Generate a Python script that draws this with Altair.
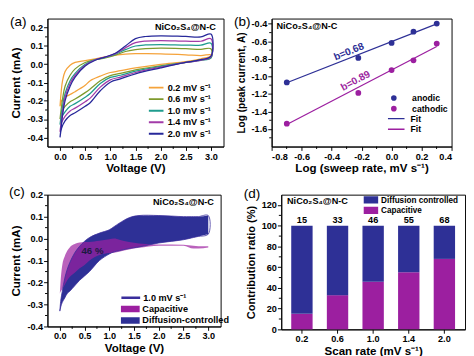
import altair as alt
import pandas as pd

FONT = "Liberation Sans"
NAVY = "#2E3096"
MAG = "#9C1FA0"
FMT1 = "replace(format(datum.value, '.1f'), '\u2212', '-')"
CHEM = "NiCo\u2082S\u2084@N-C"
PERS = " mV s\u207b\u00b9"

# ---------------- (a) CV curves ----------------
rates_a = ["0.2" + PERS, "0.6" + PERS, "1.0" + PERS, "1.4" + PERS, "2.0" + PERS]
colors_a = ["#F5A33B", "#7F9A2C", "#1F9C8E", "#A23BA8", "#27289A"]
volt_up = [0, 0.05, 0.1, 0.2, 0.3, 0.5, 0.7, 0.9, 1.1, 1.3, 1.5, 1.7, 2.0, 2.5, 2.8, 3.0]
volt_down = [3.0, 2.8, 2.5, 2.0, 1.5, 1.2, 1.0, 0.8, 0.6, 0.5, 0.3, 0.2, 0.1, 0.03, 0]
cur_up = [
    [-0.23, -0.09, -0.04, -0.005, 0.01, 0.02, 0.03, 0.04, 0.05, 0.056, 0.058, 0.058, 0.057, 0.052, 0.048, 0.052],
    [-0.30, -0.19, -0.12, -0.06, -0.025, 0.01, 0.025, 0.035, 0.05, 0.07, 0.08, 0.085, 0.088, 0.085, 0.082, 0.085],
    [-0.33, -0.23, -0.16, -0.09, -0.05, 0.0, 0.025, 0.038, 0.055, 0.08, 0.10, 0.106, 0.108, 0.105, 0.105, 0.115],
    [-0.37, -0.26, -0.18, -0.105, -0.06, -0.005, 0.025, 0.04, 0.058, 0.09, 0.118, 0.127, 0.13, 0.126, 0.126, 0.14],
    [-0.40, -0.28, -0.20, -0.12, -0.07, -0.01, 0.022, 0.04, 0.06, 0.10, 0.14, 0.152, 0.156, 0.152, 0.15, 0.165],
]
cur_down = [
    [0.045, 0.03, 0.015, 0.0, -0.02, -0.035, -0.045, -0.065, -0.09, -0.115, -0.15, -0.165, -0.18, -0.20, -0.23],
    [0.035, 0.025, 0.01, -0.008, -0.03, -0.05, -0.062, -0.09, -0.135, -0.155, -0.19, -0.205, -0.23, -0.26, -0.30],
    [0.035, 0.022, 0.01, -0.012, -0.038, -0.06, -0.072, -0.105, -0.16, -0.18, -0.215, -0.23, -0.26, -0.29, -0.33],
    [0.04, 0.022, 0.01, -0.016, -0.045, -0.07, -0.085, -0.125, -0.185, -0.205, -0.24, -0.255, -0.285, -0.32, -0.37],
    [0.045, 0.025, 0.01, -0.02, -0.052, -0.08, -0.098, -0.145, -0.21, -0.23, -0.265, -0.28, -0.31, -0.35, -0.40],
]

# ---------------- (b) log-log ----------------
log_rate = [-0.699, -0.222, 0.0, 0.146, 0.301]
log_anodic = [-1.068, -0.789, -0.618, -0.489, -0.397]
log_cathodic = [-1.539, -1.188, -0.928, -0.816, -0.625]
fit_x = [-0.699, 0.301]
fit_anodic = [-1.072, -0.40]
fit_cathodic = [-1.549, -0.659]

# ---------------- (c) capacitive separation ----------------
volt_c = [0, 0.02, 0.05, 0.1, 0.15, 0.2, 0.3, 0.4, 0.5, 0.6, 0.8, 1.0, 1.1, 1.2, 1.4, 1.6, 2.0, 2.5, 2.7, 2.8, 3.0]
total_up = [-0.33, -0.28, -0.24, -0.18, -0.14, -0.11, -0.065, -0.035, -0.012, 0.005, 0.025, 0.04, 0.055, 0.07, 0.095, 0.105, 0.105, 0.10, 0.10, 0.10, 0.105]
total_dn = [-0.33, -0.31, -0.29, -0.27, -0.25, -0.24, -0.215, -0.19, -0.17, -0.15, -0.10, -0.07, -0.06, -0.055, -0.045, -0.038, -0.02, -0.005, 0.005, 0.01, 0.02]
cap_up = [-0.25, -0.18, -0.12, -0.08, -0.055, -0.04, -0.025, -0.018, -0.015, -0.015, -0.01, -0.003, 0.0, -0.005, -0.015, -0.022, -0.027, -0.028, -0.033, -0.035, -0.035]
cap_dn = [-0.25, -0.24, -0.23, -0.21, -0.19, -0.175, -0.155, -0.135, -0.12, -0.10, -0.075, -0.066, -0.064, -0.06, -0.05, -0.042, -0.032, -0.032, -0.045, -0.045, -0.04]

# ---------------- (d) contribution ----------------
rates_d = ["0.2", "0.6", "1.0", "1.4", "2.0"]
capacitive_pct = [15, 33, 46, 55, 68]
diffusion_pct = [85, 67, 54, 45, 32]

# tick positions
volt_ticks = [0, 0.5, 1, 1.5, 2, 2.5, 3]
volt_minor = [0.25, 0.75, 1.25, 1.75, 2.25, 2.75]
cur_ticks = [-0.4, -0.3, -0.2, -0.1, 0, 0.1, 0.2]
cur_minor = [-0.35, -0.25, -0.15, -0.05, 0.05, 0.15]
logx_ticks = [-0.8, -0.6, -0.4, -0.2, 0, 0.2, 0.4]
logx_minor = [-0.7, -0.5, -0.3, -0.1, 0.1, 0.3]
logy_ticks = [-1.6, -1.4, -1.2, -1.0, -0.8, -0.6, -0.4]
logy_minor = [-1.7, -1.5, -1.3, -1.1, -0.9, -0.7, -0.5]
pct_ticks = [0, 20, 40, 60, 80, 100, 120]
pct_minor = [10, 30, 50, 70, 90, 110]

AXB = dict(labelFont=FONT, labelFontWeight="bold", labelFontSize=9.5, titleFont=FONT,
           titleFontWeight="bold", titleFontSize=12, tickSize=4, domainColor="black",
           tickColor="black", labelColor="black", titleColor="black", grid=False,
           labelPadding=1)
AXX = dict(AXB, titlePadding=2.5)
AXY = dict(AXB, titlePadding=4.5)
LEG = dict(orient="none", title=None, padding=0, labelFont=FONT, labelFontWeight="bold",
           rowPadding=0, labelColor="black", symbolOpacity=1)


def panel_label(txt, dx, dy):
    return alt.Chart(pd.DataFrame({"t": [txt]})).mark_text(
        font=FONT, fontSize=14, align="left", baseline="top", color="black"
    ).encode(x=alt.value(dx), y=alt.value(dy), text="t:N")


def chem_label(dx, dy, align):
    return alt.Chart(pd.DataFrame({"t": [CHEM]})).mark_text(
        font=FONT, fontSize=9.5, fontWeight="bold", align=align, baseline="middle", color="black"
    ).encode(x=alt.value(dx), y=alt.value(dy), text="t:N")


def x_minor(vals, scale, axis, h):
    return alt.Chart(pd.DataFrame({"m": vals})).mark_rule(color="black", strokeWidth=1).encode(
        x=alt.X("m:Q", scale=scale, axis=axis), y=alt.value(h), y2=alt.value(h + 2.5))


def y_minor(vals, scale, axis):
    return alt.Chart(pd.DataFrame({"m": vals})).mark_rule(color="black", strokeWidth=1).encode(
        y=alt.Y("m:Q", scale=scale, axis=axis), x=alt.value(0), x2=alt.value(-2.5))


# ----- panel a
rows = []
for k, lab in enumerate(rates_a):
    n = 0
    for v, c in zip(volt_up, cur_up[k]):
        rows.append({"rate": lab, "v": v, "i": c, "o": n}); n += 1
    for v, c in zip(volt_down, cur_down[k]):
        rows.append({"rate": lab, "v": v, "i": c, "o": n}); n += 1
df_a = pd.DataFrame(rows)
WA, HA = 183, 133
xs_a = alt.Scale(domain=[-0.25, 3.25], nice=False, zero=False)
ys_a = alt.Scale(domain=[-0.45, 0.25], nice=False, zero=False)
xax_a = alt.Axis(values=volt_ticks, title="Voltage (V)", labelExpr=FMT1, **AXX)
yax_a = alt.Axis(values=cur_ticks, title="Current (mA)", labelExpr=FMT1, **AXY)
lines_a = alt.Chart(df_a).mark_line(strokeWidth=1.3, interpolate="catmull-rom").encode(
    x=alt.X("v:Q", scale=xs_a, axis=xax_a), y=alt.Y("i:Q", scale=ys_a, axis=yax_a), order="o:Q",
    color=alt.Color("rate:N", scale=alt.Scale(domain=rates_a, range=colors_a),
                    legend=alt.Legend(legendX=104, legendY=66, symbolType="stroke",
                                      symbolStrokeWidth=2, symbolSize=231, clipHeight=11.5,
                                      labelOffset=3, labelFontSize=9.5, **LEG)))
panel_a = alt.layer(lines_a, x_minor(volt_minor, xs_a, xax_a, HA), y_minor(cur_minor, ys_a, yax_a),
                    chem_label(WA - 8, 9, "right"), panel_label("(a)", -39, -3)
                    ).properties(width=WA, height=HA)

# ----- panel b
WB, HB = 187, 133
df_bp = pd.DataFrame({"x": log_rate * 2, "y": log_anodic + log_cathodic,
                      "s": ["anodic"] * 5 + ["cathodic"] * 5})
df_bf = pd.DataFrame({"x": fit_x * 2, "y": fit_anodic + fit_cathodic,
                      "s": ["Fit a"] * 2 + ["Fit c"] * 2})
xs_b = alt.Scale(domain=[-0.8, 0.4], nice=False, zero=False)
ys_b = alt.Scale(domain=[-1.8, -0.34], nice=False, zero=False)
xax_b = alt.Axis(values=logx_ticks, labelExpr=FMT1, title="Log (sweep rate, mV s\u207b\u00b9)", **AXX)
yax_b = alt.Axis(values=logy_ticks, labelExpr=FMT1, title="Log (peak current, A)",
                 **dict(AXY, titleFontSize=10.5))
xb = alt.X("x:Q", scale=xs_b, axis=xax_b)
yb = alt.Y("y:Q", scale=ys_b, axis=yax_b)
fit_b = alt.Chart(df_bf).mark_line(strokeWidth=1.3).encode(
    x=xb, y=yb,
    stroke=alt.Stroke("s:N", scale=alt.Scale(domain=["Fit a", "Fit c"], range=[NAVY, MAG]),
                      legend=alt.Legend(legendX=120, legendY=98.6, symbolType="stroke",
                                        symbolStrokeWidth=1.5, symbolSize=296, labelExpr="'Fit'",
                                        clipHeight=10.8, labelOffset=5.4, labelFontSize=9, **LEG)))
pts_b = alt.Chart(df_bp).mark_circle(size=36, opacity=1).encode(
    x=xb, y=yb,
    fill=alt.Fill("s:N", scale=alt.Scale(domain=["anodic", "cathodic"], range=[NAVY, MAG]),
                  legend=alt.Legend(legendX=122.5, legendY=77.2, symbolType="circle", symbolSize=34,
                                    clipHeight=10.8, labelOffset=14.5, labelFontSize=9, **LEG)))
txt_b1 = alt.Chart(pd.DataFrame({"x": [-0.284], "y": [-0.72], "t": ["b=0.68"]})).mark_text(
    font=FONT, fontSize=10.5, fontWeight="bold", angle=338, color=NAVY).encode(x=xb, y=yb, text="t:N")
txt_b2 = alt.Chart(pd.DataFrame({"x": [-0.24], "y": [-1.051], "t": ["b=0.89"]})).mark_text(
    font=FONT, fontSize=10.5, fontWeight="bold", angle=332, color=MAG).encode(x=xb, y=yb, text="t:N")
panel_b = alt.layer(fit_b, pts_b, txt_b1, txt_b2, x_minor(logx_minor, xs_b, xax_b, HB),
                    y_minor(logy_minor, ys_b, yax_b),
                    chem_label(5, 8, "left"), panel_label("(b)", -39, -3)
                    ).properties(width=WB, height=HB)

# ----- panel c
WC, HC = 180, 137
df_c = pd.DataFrame({"v": volt_c * 2, "hi": total_up + cap_up, "lo": total_dn + cap_dn,
                     "k": ["Diffusion-controlled"] * len(volt_c) + ["Capacitive"] * len(volt_c)})
loop_rows = []
n = 0
for v, c in zip(volt_c, total_up):
    loop_rows.append({"v": v, "i": c, "o": n, "k": "1.0" + PERS}); n += 1
for v, c in zip(volt_c[::-1], total_dn[::-1]):
    loop_rows.append({"v": v, "i": c, "o": n, "k": "1.0" + PERS}); n += 1
df_cl = pd.DataFrame(loop_rows)
xs_c = alt.Scale(domain=[-0.25, 3.25], nice=False, zero=False)
ys_c = alt.Scale(domain=[-0.4, 0.2], nice=False, zero=False)
xax_c = alt.Axis(values=volt_ticks, title="Voltage (V)", labelExpr=FMT1, **AXX)
yax_c = alt.Axis(values=cur_ticks, title="Current (mA)", labelExpr=FMT1, **AXY)
xc = alt.X("v:Q", scale=xs_c, axis=xax_c)
area_navy = alt.Chart(df_c).transform_filter(alt.datum.k == "Diffusion-controlled").mark_area(
    opacity=1, interpolate="monotone").encode(
    x=xc, y=alt.Y("hi:Q", scale=ys_c, axis=yax_c), y2="lo:Q",
    fill=alt.Fill("k:N", scale=alt.Scale(domain=["Capacitive", "Diffusion-controlled"], range=[MAG, NAVY]),
                  legend=alt.Legend(legendX=75.6, legendY=113, symbolType="M-1,-0.35H1V0.35H-1Z",
                                    symbolSize=380, clipHeight=11.75, labelOffset=2, labelFontSize=9.5,
                                    **LEG)))
area_cap = alt.Chart(df_c).transform_filter(alt.datum.k == "Capacitive").mark_area(
    opacity=0.7, color=MAG, interpolate="monotone").encode(
    x=xc, y=alt.Y("hi:Q", scale=ys_c, axis=yax_c), y2="lo:Q")
loop_c = alt.Chart(df_cl).mark_line(strokeWidth=0.8, interpolate="catmull-rom").encode(
    x=xc, y=alt.Y("i:Q", scale=ys_c, axis=yax_c), order="o:Q",
    stroke=alt.Stroke("k:N", scale=alt.Scale(range=["#3A2E9C"]),
                      legend=alt.Legend(legendX=75.6, legendY=101.2, symbolType="stroke",
                                        symbolStrokeWidth=2.5, symbolSize=380, clipHeight=11.75,
                                        labelOffset=2, labelFontSize=9.5, **LEG)))
pct_c = alt.Chart(pd.DataFrame({"v": [0.66], "i": [-0.056], "t": ["46 %"]})).mark_text(
    font=FONT, fontSize=10, fontWeight="bold", color="#1a1a40").encode(
    x=xc, y=alt.Y("i:Q", scale=ys_c, axis=yax_c), text="t:N")
panel_c = alt.layer(area_navy, area_cap, loop_c, pct_c, x_minor(volt_minor, xs_c, xax_c, HC),
                    y_minor(cur_minor, ys_c, yax_c),
                    chem_label(WC - 7, 8, "right"), panel_label("(c)", -40, -10)
                    ).properties(width=WC, height=HC)

# ----- panel d
WD, HD = 191, 140
df_d = pd.DataFrame({"rate": rates_d * 2, "val": capacitive_pct + diffusion_pct,
                     "k": ["Capacitive"] * 5 + ["Diffusion controlled"] * 5,
                     "ord": [0] * 5 + [1] * 5})
df_dt = pd.DataFrame({"rate": rates_d, "tot": [100] * 5, "t": [str(v) for v in capacitive_pct]})
xd = alt.X("rate:N", sort=rates_d, scale=alt.Scale(paddingInner=0.4, paddingOuter=0.28),
           axis=alt.Axis(labelAngle=0, title="Scan rate (mV s\u207b\u00b9)", **AXX))
ys_d = alt.Scale(domain=[0, 130], nice=False, zero=True)
yax_d = alt.Axis(values=pct_ticks, title="Contribution ratio (%)", **dict(AXY, titleFontSize=11.5))
bars_d = alt.Chart(df_d).mark_bar().encode(
    x=xd,
    y=alt.Y("val:Q", stack="zero", scale=ys_d, axis=yax_d),
    order=alt.Order("ord:Q"),
    fill=alt.Fill("k:N", scale=alt.Scale(domain=["Diffusion controlled", "Capacitive"], range=[NAVY, MAG]),
                  legend=alt.Legend(legendX=84.7, legendY=0, symbolType="M-1,-0.5H1V0.5H-1Z",
                                    symbolSize=225, clipHeight=10.7, labelOffset=2, labelFontSize=8.5,
                                    **LEG)))
lbl_d = alt.Chart(df_dt).mark_text(font=FONT, fontSize=9.5, fontWeight="bold", dy=-5.5, color="black").encode(
    x=xd, y=alt.Y("tot:Q", scale=ys_d, axis=yax_d), text="t:N")
panel_d = alt.layer(bars_d, lbl_d, y_minor(pct_minor, ys_d, yax_d), chem_label(6, 6.4, "left"),
                    panel_label("(d)", -39, -8)).properties(width=WD, height=HD)

RES = dict(color="independent", fill="independent", stroke="independent")
top = alt.hconcat(panel_a, panel_b, spacing=9).resolve_scale(**RES)
bottom = alt.hconcat(panel_c, panel_d, spacing=12).resolve_scale(**RES)
chart = alt.vconcat(top, bottom, spacing=10).resolve_scale(**RES).properties(
    padding={"left": 0, "top": 0, "right": 0, "bottom": 0}
).configure(background="white", view=alt.ViewConfig(stroke="black", strokeWidth=1))

chart.save("out.html", embed_options={"renderer": "svg", "actions": False})
